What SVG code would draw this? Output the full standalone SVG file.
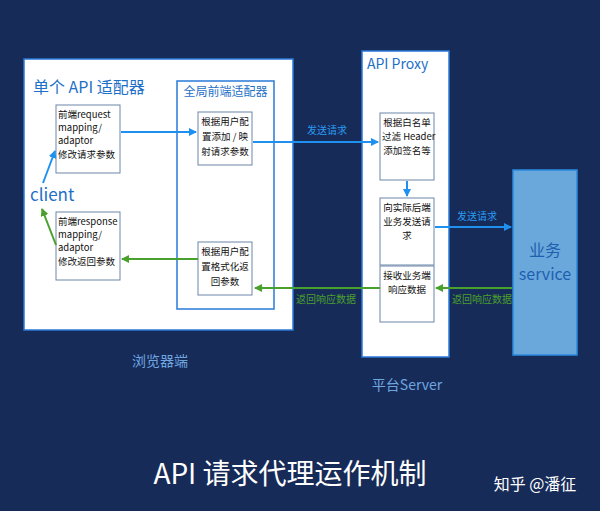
<svg xmlns="http://www.w3.org/2000/svg" width="600" height="511" viewBox="0 0 600 511">
<defs>
<marker id="ab" markerWidth="8" markerHeight="8" refX="7" refY="4" orient="auto" markerUnits="userSpaceOnUse"><path d="M0,0 L8,4 L0,8 Z" fill="#1e90f0"/></marker>
<marker id="ag" markerWidth="8" markerHeight="8" refX="7" refY="4" orient="auto" markerUnits="userSpaceOnUse"><path d="M0,0 L8,4 L0,8 Z" fill="#4aa02c"/></marker>
</defs>
<style>
text{font-family:"Noto Sans CJK SC","Liberation Sans",sans-serif}
.n{fill:#fff;stroke:#6a86a8;stroke-width:1}
.t{font-size:9.5px;fill:#111}
.b{stroke:#1e90f0;stroke-width:2;fill:none;marker-end:url(#ab)}
.g{stroke:#4aa02c;stroke-width:2;fill:none;marker-end:url(#ag)}
.lb{font-size:10px;fill:#2a9af0}
.lg{font-size:10px;fill:#4aa02c}
</style>
<rect width="600" height="511" fill="#172b58"/>
<g id="browser"><rect x="24" y="59" width="269" height="271" fill="#fff" stroke="#2a7ad8" stroke-width="1.5"/>
<text x="33" y="93" font-size="16" fill="#1e6fc8">单个 API 适配器</text></g>
<g id="global"><rect x="177" y="81" width="97" height="228" fill="none" stroke="#2a7ad8" stroke-width="1.5"/>
<text x="225.5" y="96" font-size="12" fill="#1e6fc8" text-anchor="middle">全局前端适配器</text></g>
<g id="proxy"><rect x="362" y="51" width="87" height="306" fill="#fff" stroke="#2a7ad8" stroke-width="1.5"/>
<text x="367" y="69" font-size="14" fill="#1e6fc8">API Proxy</text></g>
<g id="req"><rect class="n" x="56" y="105" width="64" height="68"/>
<text class="t" x="58" y="118">前端request</text><text class="t" x="58" y="131">mapping/</text><text class="t" x="58" y="144">adaptor</text><text class="t" x="58" y="158">修改请求参数</text></g>
<g id="resp"><rect class="n" x="56" y="212" width="64" height="68"/>
<text class="t" x="58" y="225">前端response</text><text class="t" x="58" y="238">mapping/</text><text class="t" x="58" y="251">adaptor</text><text class="t" x="58" y="265">修改返回参数</text></g>
<g id="gmap"><rect class="n" x="198" y="112" width="54" height="53"/>
<text class="t" x="225" y="125" text-anchor="middle">根据用户配</text><text class="t" x="225" y="140" text-anchor="middle">置添加 / 映</text><text class="t" x="225" y="155" text-anchor="middle">射请求参数</text></g>
<g id="gfmt"><rect class="n" x="198" y="242" width="54" height="53"/>
<text class="t" x="225" y="255" text-anchor="middle">根据用户配</text><text class="t" x="225" y="270" text-anchor="middle">置格式化返</text><text class="t" x="225" y="285" text-anchor="middle">回参数</text></g>
<g id="p1"><rect class="n" x="380" y="113" width="54" height="67"/>
<text class="t" x="407" y="126" text-anchor="middle">根据白名单</text><text class="t" x="382" y="140" font-size="8.5">过滤 Header</text><text class="t" x="407" y="154" text-anchor="middle">添加签名等</text></g>
<g id="p2"><rect class="n" x="380" y="198" width="54" height="67"/>
<text class="t" x="407" y="211" text-anchor="middle">向实际后端</text><text class="t" x="407" y="225" text-anchor="middle">业务发送请</text><text class="t" x="407" y="239" text-anchor="middle">求</text></g>
<g id="p3"><rect class="n" x="380" y="266" width="54" height="56"/>
<text class="t" x="407" y="279" text-anchor="middle">接收业务端</text><text class="t" x="407" y="293" text-anchor="middle">响应数据</text></g>
<g id="service"><rect x="513" y="170" width="64" height="185" fill="#6aa8dc" stroke="#2a8ae0" stroke-width="1.5"/>
<text x="545" y="256" font-size="16" fill="#1e5fb0" text-anchor="middle">业务</text>
<text x="545" y="280" font-size="16" fill="#1e5fb0" text-anchor="middle">service</text></g>
<g id="client"><text x="30" y="201" font-size="17" fill="#1e6fc8">client</text></g>
<g id="connectors">
<path class="b" d="M43,183 L55,151"/>
<path class="b" d="M121,132 L196,132"/>
<path class="b" d="M253,142 L378,142"/>
<path class="b" d="M407,181 L407,196"/>
<path class="b" d="M435,227 L511,227"/>
<path class="g" d="M512,288 L436,288"/>
<path class="g" d="M380,288 L255,288"/>
<path class="g" d="M198,259 L122,259"/>
<path class="g" d="M56,245 L42,209"/>
<text class="lb" x="327" y="134" text-anchor="middle">发送请求</text>
<text class="lb" x="477" y="220" text-anchor="middle">发送请求</text>
<text class="lg" x="326" y="303" text-anchor="middle">返回响应数据</text>
<text class="lg" x="482" y="303" text-anchor="middle">返回响应数据</text>
</g>
<text x="160" y="366" font-size="14" fill="#6fa6e0" text-anchor="middle">浏览器端</text>
<text x="407" y="390" font-size="14" fill="#6fa6e0" text-anchor="middle">平台Server</text>
<text x="290" y="484" font-size="28" fill="#fff" text-anchor="middle">API 请求代理运作机制</text>
<text x="535" y="490" font-size="16" fill="#fff" text-anchor="middle">知乎 @潘征</text>
</svg>
